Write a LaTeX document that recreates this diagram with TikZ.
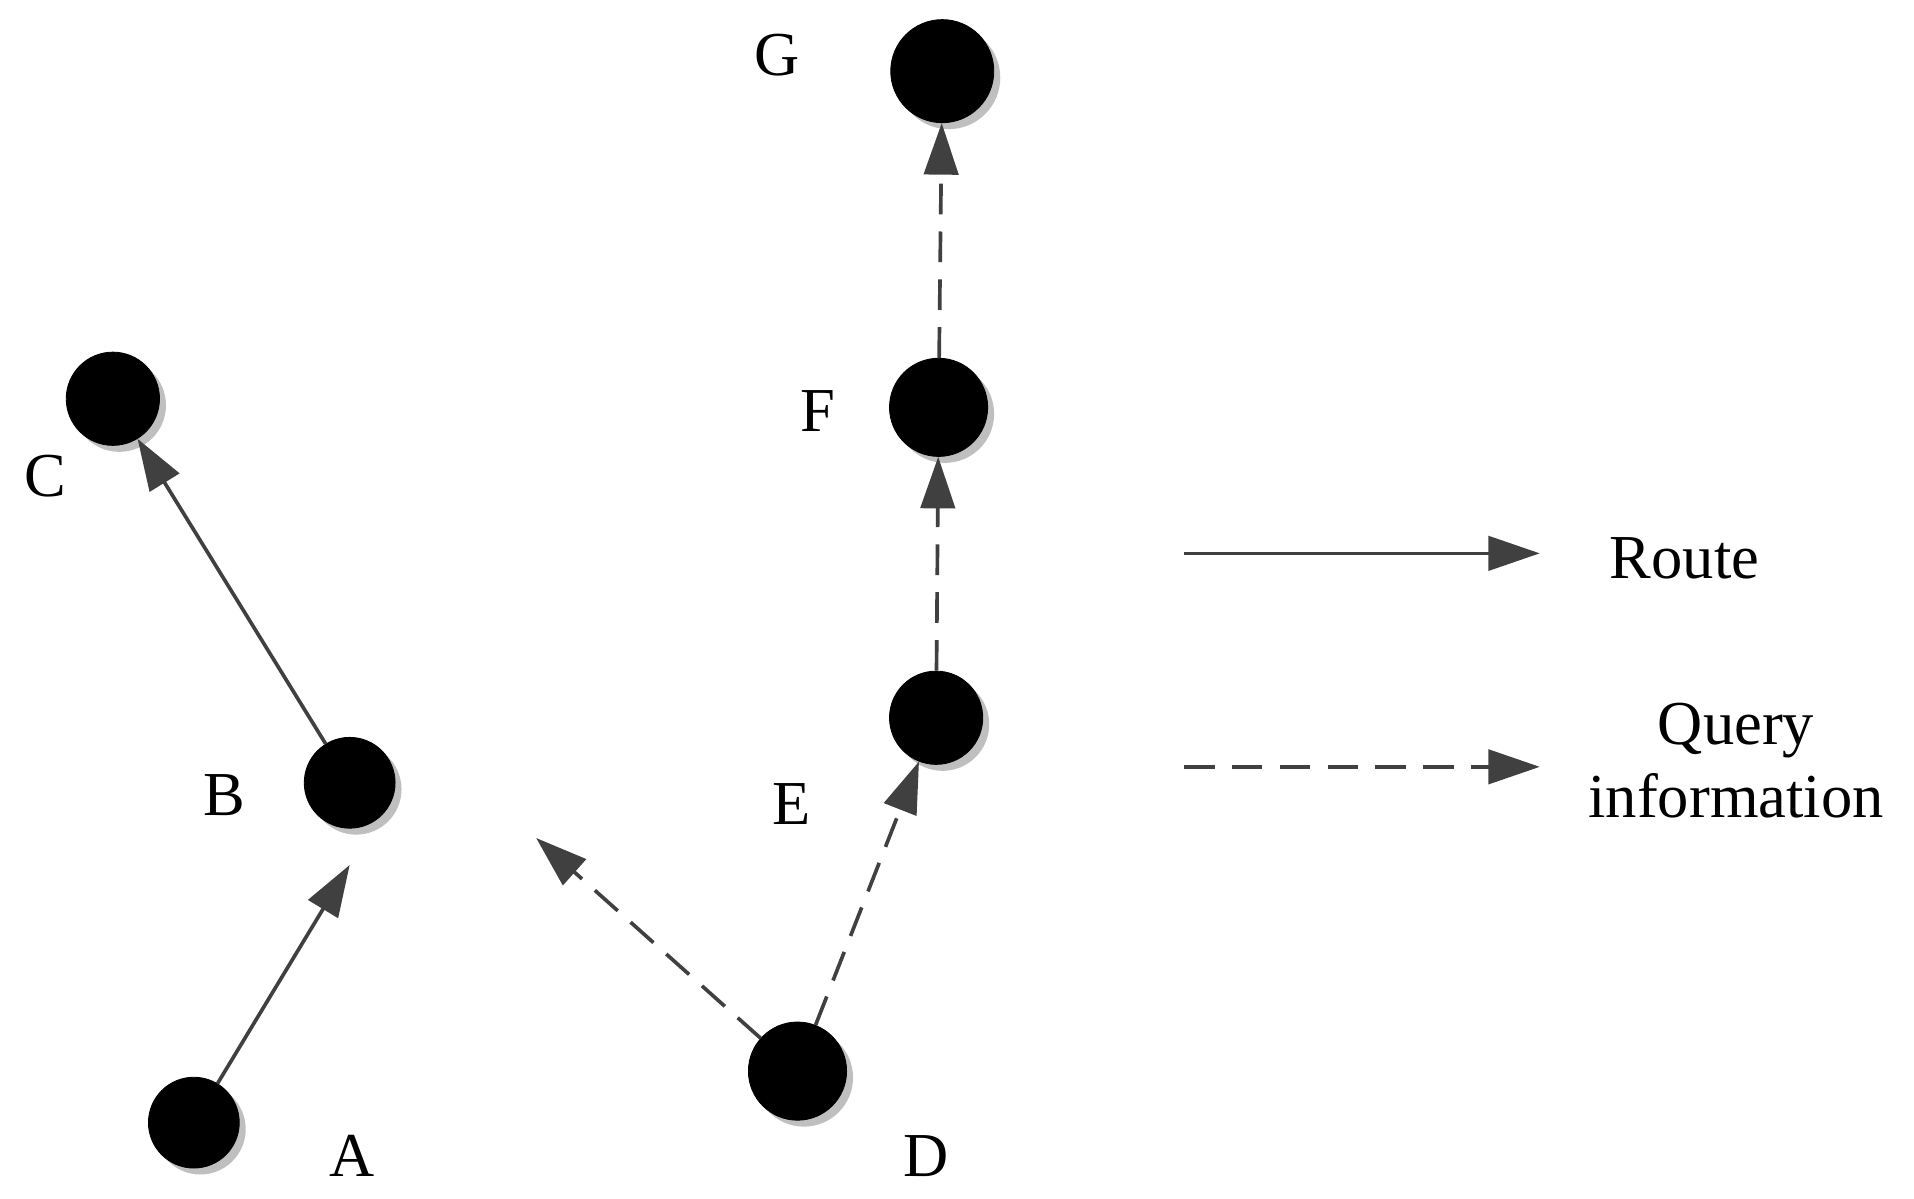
\documentclass[tikz,border=0pt]{standalone}
\usepackage{fontspec}
\setmainfont{Liberation Serif}
\usetikzlibrary{arrows.meta,shadows}
\begin{document}
\begin{tikzpicture}[x=0.02cm,y=-0.02cm,
  nd/.style={circle,fill=black,draw=black,inner sep=0pt,minimum size=#1,
    drop shadow={shadow xshift=3pt,shadow yshift=-3pt,fill=black!25,opacity=1}},
  lbl/.style={font=\fontsize{29}{34}\selectfont},
  con/.style={draw=black!75,line width=1.7pt,-{Triangle[length=0.84cm,width=0.56cm]}},
  dsh/.style={con,dash pattern=on 0.5cm off 0.28cm}]
\useasboundingbox (0,0) rectangle (1560,977);
\node[nd=84*0.02cm] (G) at (768,58) {};
\node[nd=80*0.02cm] (F) at (765,332) {};
\node[nd=76*0.02cm] (E) at (763,585) {};
\node[nd=80*0.02cm] (D) at (650,873) {};
\node[nd=76*0.02cm] (C) at (92,325) {};
\node[nd=74*0.02cm] (B) at (285,638) {};
\node[nd=74*0.02cm] (A) at (158,915) {};
\node[lbl] (lG) at (633,45) {G};
\node[lbl] (lF) at (667,335) {F};
\node[lbl] (lE) at (645,655) {E};
\node[lbl] (lD) at (755,942) {D};
\node[lbl] (lC) at (37,388) {C};
\node[lbl] (lB) at (183,648) {B};
\node[lbl] (lA) at (287,942) {A};
\coordinate (Bin) at (285,705);
\coordinate (Dq) at (437,683);
\draw[con] (A) -- (Bin);
\draw[con] (B) -- (C);
\draw[dsh] (D) -- (Dq);
\draw[dsh] (D) -- (E);
\draw[dsh] (E) -- (F);
\draw[dsh] (F) -- (G);
\coordinate (r1) at (965,451); \coordinate (r2) at (1255,451);
\coordinate (q1) at (965,625); \coordinate (q2) at (1255,625);
\draw[con] (r1) -- (r2);
\draw[dsh] (q1) -- (q2);
\node[lbl] (route) at (1373,455) {Route};
\node[lbl,align=center] (query) at (1415,620) {Query\\information};
\end{tikzpicture}
\end{document}
